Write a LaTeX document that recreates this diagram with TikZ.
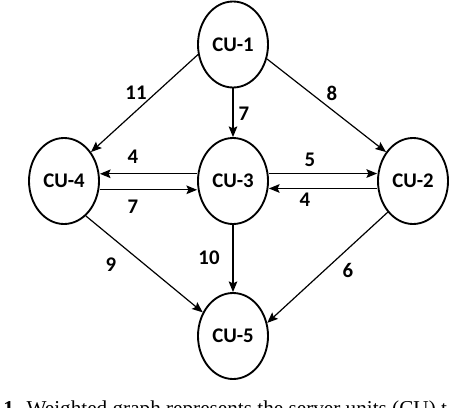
\documentclass[tikz,border=0pt]{standalone}
\usepackage{fontspec}
\setmainfont{Liberation Serif}
\newfontfamily\cufont{Carlito}
\usetikzlibrary{shapes.geometric,arrows.meta,calc}
\begin{document}
\begin{tikzpicture}[x=0.75pt,y=-0.75pt,
  cunode/.style={ellipse,draw,line width=1.4pt,minimum width=52.5pt,minimum height=64.5pt,inner sep=0pt,font=\cufont\bfseries\fontsize{15.6}{18}\selectfont},
  wlabel/.style={font=\cufont\bfseries\fontsize{15.6}{18}\selectfont,inner sep=0pt},
  link/.style={line width=0.9pt,-{Stealth[length=8pt,width=6.5pt,inset=1.5pt]}}]
\useasboundingbox (0,0) rectangle (474,407);
\node[cunode] (CU-1) at (233,44.5) {CU-1};
\node[cunode] (CU-4) at (64,181) {CU-4};
\node[cunode] (CU-3) at (233,181) {CU-3};
\node[cunode] (CU-2) at (413,181) {CU-2};
\node[cunode] (CU-5) at (233,336) {CU-5};
\draw[link] (CU-1.south) -- (CU-3.north);
\draw[link] (CU-1.196) -- (CU-4.47);
\draw[link] (CU-1.337) -- (CU-2.133);
\draw[link] ([yshift=5.4pt]CU-3.west) -- ([yshift=5.4pt]CU-4.east);
\draw[link] ([yshift=-6.6pt]CU-4.east) -- ([yshift=-6.6pt]CU-3.west);
\draw[link] ([yshift=5.6pt]CU-3.east) -- ([yshift=5.6pt]CU-2.west);
\draw[link] ([yshift=-5.6pt]CU-2.west) -- ([yshift=-5.6pt]CU-3.east);
\draw[link] (CU-3.south) -- (CU-5.north);
\draw[link] (CU-4.302) -- (CU-5.142);
\draw[link] (CU-2.231) -- (CU-5.21);
\node[wlabel] (w11) at (136,93) {11};
\node[wlabel] (w7a) at (244,114) {7};
\node[wlabel] (w8) at (332,93) {8};
\node[wlabel] (w4a) at (133,157) {4};
\node[wlabel] (w7b) at (133,207) {7};
\node[wlabel] (w5) at (310,160) {5};
\node[wlabel] (w4b) at (305,200) {4};
\node[wlabel] (w9) at (111,265) {9};
\node[wlabel] (w10) at (209,258) {10};
\node[wlabel] (w6) at (348,270) {6};
\begin{scope}
\clip (0,0) rectangle (474,407);
\node[anchor=base west,inner sep=0pt,font=\fontsize{15.9}{18}\selectfont] (cap) at (3,415.8) {\textbf{1}\hspace{0.6em}Weighted graph represents the server units (CU) t};
\end{scope}
\end{tikzpicture}
\end{document}
